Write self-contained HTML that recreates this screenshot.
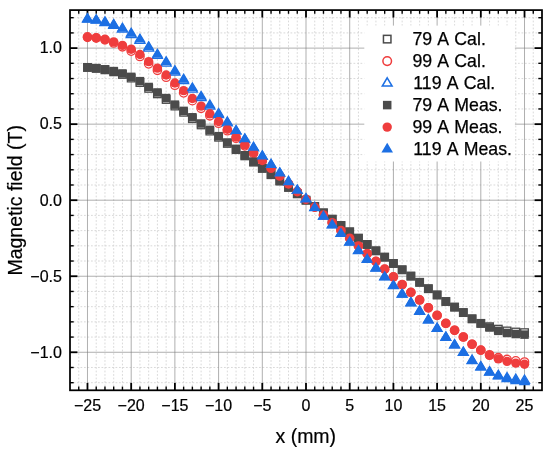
<!DOCTYPE html>
<html lang="en"><head><meta charset="utf-8"><title>Magnetic field vs x</title>
<style>html,body{margin:0;padding:0;background:#fff}body{width:550px;height:451px;overflow:hidden}</style>
</head><body>
<svg width="550" height="451" viewBox="0 0 550 451" style="display:block">
<rect width="550" height="451" fill="#fff"/>
<g stroke="#cfcfcf" stroke-width="0.8" stroke-dasharray="1.75 1.75" fill="none">
<line x1="78.74" y1="10.1" x2="78.74" y2="390.3"/>
<line x1="96.22" y1="10.1" x2="96.22" y2="390.3"/>
<line x1="104.96" y1="10.1" x2="104.96" y2="390.3"/>
<line x1="113.70" y1="10.1" x2="113.70" y2="390.3"/>
<line x1="122.44" y1="10.1" x2="122.44" y2="390.3"/>
<line x1="139.93" y1="10.1" x2="139.93" y2="390.3"/>
<line x1="148.67" y1="10.1" x2="148.67" y2="390.3"/>
<line x1="157.41" y1="10.1" x2="157.41" y2="390.3"/>
<line x1="166.15" y1="10.1" x2="166.15" y2="390.3"/>
<line x1="183.63" y1="10.1" x2="183.63" y2="390.3"/>
<line x1="192.37" y1="10.1" x2="192.37" y2="390.3"/>
<line x1="201.11" y1="10.1" x2="201.11" y2="390.3"/>
<line x1="209.85" y1="10.1" x2="209.85" y2="390.3"/>
<line x1="227.33" y1="10.1" x2="227.33" y2="390.3"/>
<line x1="236.07" y1="10.1" x2="236.07" y2="390.3"/>
<line x1="244.81" y1="10.1" x2="244.81" y2="390.3"/>
<line x1="253.56" y1="10.1" x2="253.56" y2="390.3"/>
<line x1="271.04" y1="10.1" x2="271.04" y2="390.3"/>
<line x1="279.78" y1="10.1" x2="279.78" y2="390.3"/>
<line x1="288.52" y1="10.1" x2="288.52" y2="390.3"/>
<line x1="297.26" y1="10.1" x2="297.26" y2="390.3"/>
<line x1="314.74" y1="10.1" x2="314.74" y2="390.3"/>
<line x1="323.48" y1="10.1" x2="323.48" y2="390.3"/>
<line x1="332.22" y1="10.1" x2="332.22" y2="390.3"/>
<line x1="340.96" y1="10.1" x2="340.96" y2="390.3"/>
<line x1="358.44" y1="10.1" x2="358.44" y2="390.3"/>
<line x1="367.19" y1="10.1" x2="367.19" y2="390.3"/>
<line x1="375.93" y1="10.1" x2="375.93" y2="390.3"/>
<line x1="384.67" y1="10.1" x2="384.67" y2="390.3"/>
<line x1="402.15" y1="10.1" x2="402.15" y2="390.3"/>
<line x1="410.89" y1="10.1" x2="410.89" y2="390.3"/>
<line x1="419.63" y1="10.1" x2="419.63" y2="390.3"/>
<line x1="428.37" y1="10.1" x2="428.37" y2="390.3"/>
<line x1="445.85" y1="10.1" x2="445.85" y2="390.3"/>
<line x1="454.59" y1="10.1" x2="454.59" y2="390.3"/>
<line x1="463.33" y1="10.1" x2="463.33" y2="390.3"/>
<line x1="472.07" y1="10.1" x2="472.07" y2="390.3"/>
<line x1="489.56" y1="10.1" x2="489.56" y2="390.3"/>
<line x1="498.30" y1="10.1" x2="498.30" y2="390.3"/>
<line x1="507.04" y1="10.1" x2="507.04" y2="390.3"/>
<line x1="515.78" y1="10.1" x2="515.78" y2="390.3"/>
<line x1="533.26" y1="10.1" x2="533.26" y2="390.3"/>
<line x1="70.0" y1="382.70" x2="542.0" y2="382.70"/>
<line x1="70.0" y1="367.49" x2="542.0" y2="367.49"/>
<line x1="70.0" y1="337.07" x2="542.0" y2="337.07"/>
<line x1="70.0" y1="321.86" x2="542.0" y2="321.86"/>
<line x1="70.0" y1="306.66" x2="542.0" y2="306.66"/>
<line x1="70.0" y1="291.45" x2="542.0" y2="291.45"/>
<line x1="70.0" y1="261.03" x2="542.0" y2="261.03"/>
<line x1="70.0" y1="245.82" x2="542.0" y2="245.82"/>
<line x1="70.0" y1="230.62" x2="542.0" y2="230.62"/>
<line x1="70.0" y1="215.41" x2="542.0" y2="215.41"/>
<line x1="70.0" y1="184.99" x2="542.0" y2="184.99"/>
<line x1="70.0" y1="169.78" x2="542.0" y2="169.78"/>
<line x1="70.0" y1="154.58" x2="542.0" y2="154.58"/>
<line x1="70.0" y1="139.37" x2="542.0" y2="139.37"/>
<line x1="70.0" y1="108.95" x2="542.0" y2="108.95"/>
<line x1="70.0" y1="93.74" x2="542.0" y2="93.74"/>
<line x1="70.0" y1="78.54" x2="542.0" y2="78.54"/>
<line x1="70.0" y1="63.33" x2="542.0" y2="63.33"/>
<line x1="70.0" y1="32.91" x2="542.0" y2="32.91"/>
<line x1="70.0" y1="17.70" x2="542.0" y2="17.70"/>
</g>
<g stroke="#787878" stroke-width="0.6" fill="none">
<line x1="87.48" y1="10.1" x2="87.48" y2="390.3"/>
<line x1="131.19" y1="10.1" x2="131.19" y2="390.3"/>
<line x1="174.89" y1="10.1" x2="174.89" y2="390.3"/>
<line x1="218.59" y1="10.1" x2="218.59" y2="390.3"/>
<line x1="262.30" y1="10.1" x2="262.30" y2="390.3"/>
<line x1="306.00" y1="10.1" x2="306.00" y2="390.3"/>
<line x1="349.70" y1="10.1" x2="349.70" y2="390.3"/>
<line x1="393.41" y1="10.1" x2="393.41" y2="390.3"/>
<line x1="437.11" y1="10.1" x2="437.11" y2="390.3"/>
<line x1="480.81" y1="10.1" x2="480.81" y2="390.3"/>
<line x1="524.52" y1="10.1" x2="524.52" y2="390.3"/>
<line x1="70.0" y1="352.28" x2="542.0" y2="352.28"/>
<line x1="70.0" y1="276.24" x2="542.0" y2="276.24"/>
<line x1="70.0" y1="200.20" x2="542.0" y2="200.20"/>
<line x1="70.0" y1="124.16" x2="542.0" y2="124.16"/>
<line x1="70.0" y1="48.12" x2="542.0" y2="48.12"/>
</g>
<g stroke="#000" stroke-width="1.5" fill="none">
<line x1="78.74" y1="390.3" x2="78.74" y2="386.6" stroke-width="1.4"/>
<line x1="78.74" y1="10.1" x2="78.74" y2="13.8" stroke-width="1.4"/>
<line x1="87.48" y1="390.3" x2="87.48" y2="382.90000000000003" stroke-width="1.8"/>
<line x1="87.48" y1="10.1" x2="87.48" y2="17.5" stroke-width="1.8"/>
<line x1="96.22" y1="390.3" x2="96.22" y2="386.6" stroke-width="1.4"/>
<line x1="96.22" y1="10.1" x2="96.22" y2="13.8" stroke-width="1.4"/>
<line x1="104.96" y1="390.3" x2="104.96" y2="386.6" stroke-width="1.4"/>
<line x1="104.96" y1="10.1" x2="104.96" y2="13.8" stroke-width="1.4"/>
<line x1="113.70" y1="390.3" x2="113.70" y2="386.6" stroke-width="1.4"/>
<line x1="113.70" y1="10.1" x2="113.70" y2="13.8" stroke-width="1.4"/>
<line x1="122.44" y1="390.3" x2="122.44" y2="386.6" stroke-width="1.4"/>
<line x1="122.44" y1="10.1" x2="122.44" y2="13.8" stroke-width="1.4"/>
<line x1="131.19" y1="390.3" x2="131.19" y2="382.90000000000003" stroke-width="1.8"/>
<line x1="131.19" y1="10.1" x2="131.19" y2="17.5" stroke-width="1.8"/>
<line x1="139.93" y1="390.3" x2="139.93" y2="386.6" stroke-width="1.4"/>
<line x1="139.93" y1="10.1" x2="139.93" y2="13.8" stroke-width="1.4"/>
<line x1="148.67" y1="390.3" x2="148.67" y2="386.6" stroke-width="1.4"/>
<line x1="148.67" y1="10.1" x2="148.67" y2="13.8" stroke-width="1.4"/>
<line x1="157.41" y1="390.3" x2="157.41" y2="386.6" stroke-width="1.4"/>
<line x1="157.41" y1="10.1" x2="157.41" y2="13.8" stroke-width="1.4"/>
<line x1="166.15" y1="390.3" x2="166.15" y2="386.6" stroke-width="1.4"/>
<line x1="166.15" y1="10.1" x2="166.15" y2="13.8" stroke-width="1.4"/>
<line x1="174.89" y1="390.3" x2="174.89" y2="382.90000000000003" stroke-width="1.8"/>
<line x1="174.89" y1="10.1" x2="174.89" y2="17.5" stroke-width="1.8"/>
<line x1="183.63" y1="390.3" x2="183.63" y2="386.6" stroke-width="1.4"/>
<line x1="183.63" y1="10.1" x2="183.63" y2="13.8" stroke-width="1.4"/>
<line x1="192.37" y1="390.3" x2="192.37" y2="386.6" stroke-width="1.4"/>
<line x1="192.37" y1="10.1" x2="192.37" y2="13.8" stroke-width="1.4"/>
<line x1="201.11" y1="390.3" x2="201.11" y2="386.6" stroke-width="1.4"/>
<line x1="201.11" y1="10.1" x2="201.11" y2="13.8" stroke-width="1.4"/>
<line x1="209.85" y1="390.3" x2="209.85" y2="386.6" stroke-width="1.4"/>
<line x1="209.85" y1="10.1" x2="209.85" y2="13.8" stroke-width="1.4"/>
<line x1="218.59" y1="390.3" x2="218.59" y2="382.90000000000003" stroke-width="1.8"/>
<line x1="218.59" y1="10.1" x2="218.59" y2="17.5" stroke-width="1.8"/>
<line x1="227.33" y1="390.3" x2="227.33" y2="386.6" stroke-width="1.4"/>
<line x1="227.33" y1="10.1" x2="227.33" y2="13.8" stroke-width="1.4"/>
<line x1="236.07" y1="390.3" x2="236.07" y2="386.6" stroke-width="1.4"/>
<line x1="236.07" y1="10.1" x2="236.07" y2="13.8" stroke-width="1.4"/>
<line x1="244.81" y1="390.3" x2="244.81" y2="386.6" stroke-width="1.4"/>
<line x1="244.81" y1="10.1" x2="244.81" y2="13.8" stroke-width="1.4"/>
<line x1="253.56" y1="390.3" x2="253.56" y2="386.6" stroke-width="1.4"/>
<line x1="253.56" y1="10.1" x2="253.56" y2="13.8" stroke-width="1.4"/>
<line x1="262.30" y1="390.3" x2="262.30" y2="382.90000000000003" stroke-width="1.8"/>
<line x1="262.30" y1="10.1" x2="262.30" y2="17.5" stroke-width="1.8"/>
<line x1="271.04" y1="390.3" x2="271.04" y2="386.6" stroke-width="1.4"/>
<line x1="271.04" y1="10.1" x2="271.04" y2="13.8" stroke-width="1.4"/>
<line x1="279.78" y1="390.3" x2="279.78" y2="386.6" stroke-width="1.4"/>
<line x1="279.78" y1="10.1" x2="279.78" y2="13.8" stroke-width="1.4"/>
<line x1="288.52" y1="390.3" x2="288.52" y2="386.6" stroke-width="1.4"/>
<line x1="288.52" y1="10.1" x2="288.52" y2="13.8" stroke-width="1.4"/>
<line x1="297.26" y1="390.3" x2="297.26" y2="386.6" stroke-width="1.4"/>
<line x1="297.26" y1="10.1" x2="297.26" y2="13.8" stroke-width="1.4"/>
<line x1="306.00" y1="390.3" x2="306.00" y2="382.90000000000003" stroke-width="1.8"/>
<line x1="306.00" y1="10.1" x2="306.00" y2="17.5" stroke-width="1.8"/>
<line x1="314.74" y1="390.3" x2="314.74" y2="386.6" stroke-width="1.4"/>
<line x1="314.74" y1="10.1" x2="314.74" y2="13.8" stroke-width="1.4"/>
<line x1="323.48" y1="390.3" x2="323.48" y2="386.6" stroke-width="1.4"/>
<line x1="323.48" y1="10.1" x2="323.48" y2="13.8" stroke-width="1.4"/>
<line x1="332.22" y1="390.3" x2="332.22" y2="386.6" stroke-width="1.4"/>
<line x1="332.22" y1="10.1" x2="332.22" y2="13.8" stroke-width="1.4"/>
<line x1="340.96" y1="390.3" x2="340.96" y2="386.6" stroke-width="1.4"/>
<line x1="340.96" y1="10.1" x2="340.96" y2="13.8" stroke-width="1.4"/>
<line x1="349.70" y1="390.3" x2="349.70" y2="382.90000000000003" stroke-width="1.8"/>
<line x1="349.70" y1="10.1" x2="349.70" y2="17.5" stroke-width="1.8"/>
<line x1="358.44" y1="390.3" x2="358.44" y2="386.6" stroke-width="1.4"/>
<line x1="358.44" y1="10.1" x2="358.44" y2="13.8" stroke-width="1.4"/>
<line x1="367.19" y1="390.3" x2="367.19" y2="386.6" stroke-width="1.4"/>
<line x1="367.19" y1="10.1" x2="367.19" y2="13.8" stroke-width="1.4"/>
<line x1="375.93" y1="390.3" x2="375.93" y2="386.6" stroke-width="1.4"/>
<line x1="375.93" y1="10.1" x2="375.93" y2="13.8" stroke-width="1.4"/>
<line x1="384.67" y1="390.3" x2="384.67" y2="386.6" stroke-width="1.4"/>
<line x1="384.67" y1="10.1" x2="384.67" y2="13.8" stroke-width="1.4"/>
<line x1="393.41" y1="390.3" x2="393.41" y2="382.90000000000003" stroke-width="1.8"/>
<line x1="393.41" y1="10.1" x2="393.41" y2="17.5" stroke-width="1.8"/>
<line x1="402.15" y1="390.3" x2="402.15" y2="386.6" stroke-width="1.4"/>
<line x1="402.15" y1="10.1" x2="402.15" y2="13.8" stroke-width="1.4"/>
<line x1="410.89" y1="390.3" x2="410.89" y2="386.6" stroke-width="1.4"/>
<line x1="410.89" y1="10.1" x2="410.89" y2="13.8" stroke-width="1.4"/>
<line x1="419.63" y1="390.3" x2="419.63" y2="386.6" stroke-width="1.4"/>
<line x1="419.63" y1="10.1" x2="419.63" y2="13.8" stroke-width="1.4"/>
<line x1="428.37" y1="390.3" x2="428.37" y2="386.6" stroke-width="1.4"/>
<line x1="428.37" y1="10.1" x2="428.37" y2="13.8" stroke-width="1.4"/>
<line x1="437.11" y1="390.3" x2="437.11" y2="382.90000000000003" stroke-width="1.8"/>
<line x1="437.11" y1="10.1" x2="437.11" y2="17.5" stroke-width="1.8"/>
<line x1="445.85" y1="390.3" x2="445.85" y2="386.6" stroke-width="1.4"/>
<line x1="445.85" y1="10.1" x2="445.85" y2="13.8" stroke-width="1.4"/>
<line x1="454.59" y1="390.3" x2="454.59" y2="386.6" stroke-width="1.4"/>
<line x1="454.59" y1="10.1" x2="454.59" y2="13.8" stroke-width="1.4"/>
<line x1="463.33" y1="390.3" x2="463.33" y2="386.6" stroke-width="1.4"/>
<line x1="463.33" y1="10.1" x2="463.33" y2="13.8" stroke-width="1.4"/>
<line x1="472.07" y1="390.3" x2="472.07" y2="386.6" stroke-width="1.4"/>
<line x1="472.07" y1="10.1" x2="472.07" y2="13.8" stroke-width="1.4"/>
<line x1="480.81" y1="390.3" x2="480.81" y2="382.90000000000003" stroke-width="1.8"/>
<line x1="480.81" y1="10.1" x2="480.81" y2="17.5" stroke-width="1.8"/>
<line x1="489.56" y1="390.3" x2="489.56" y2="386.6" stroke-width="1.4"/>
<line x1="489.56" y1="10.1" x2="489.56" y2="13.8" stroke-width="1.4"/>
<line x1="498.30" y1="390.3" x2="498.30" y2="386.6" stroke-width="1.4"/>
<line x1="498.30" y1="10.1" x2="498.30" y2="13.8" stroke-width="1.4"/>
<line x1="507.04" y1="390.3" x2="507.04" y2="386.6" stroke-width="1.4"/>
<line x1="507.04" y1="10.1" x2="507.04" y2="13.8" stroke-width="1.4"/>
<line x1="515.78" y1="390.3" x2="515.78" y2="386.6" stroke-width="1.4"/>
<line x1="515.78" y1="10.1" x2="515.78" y2="13.8" stroke-width="1.4"/>
<line x1="524.52" y1="390.3" x2="524.52" y2="382.90000000000003" stroke-width="1.8"/>
<line x1="524.52" y1="10.1" x2="524.52" y2="17.5" stroke-width="1.8"/>
<line x1="533.26" y1="390.3" x2="533.26" y2="386.6" stroke-width="1.4"/>
<line x1="533.26" y1="10.1" x2="533.26" y2="13.8" stroke-width="1.4"/>
<line x1="70.0" y1="382.70" x2="73.7" y2="382.70" stroke-width="1.4"/>
<line x1="542.0" y1="382.70" x2="538.3" y2="382.70" stroke-width="1.4"/>
<line x1="70.0" y1="367.49" x2="73.7" y2="367.49" stroke-width="1.4"/>
<line x1="542.0" y1="367.49" x2="538.3" y2="367.49" stroke-width="1.4"/>
<line x1="70.0" y1="352.28" x2="77.4" y2="352.28" stroke-width="1.8"/>
<line x1="542.0" y1="352.28" x2="534.6" y2="352.28" stroke-width="1.8"/>
<line x1="70.0" y1="337.07" x2="73.7" y2="337.07" stroke-width="1.4"/>
<line x1="542.0" y1="337.07" x2="538.3" y2="337.07" stroke-width="1.4"/>
<line x1="70.0" y1="321.86" x2="73.7" y2="321.86" stroke-width="1.4"/>
<line x1="542.0" y1="321.86" x2="538.3" y2="321.86" stroke-width="1.4"/>
<line x1="70.0" y1="306.66" x2="73.7" y2="306.66" stroke-width="1.4"/>
<line x1="542.0" y1="306.66" x2="538.3" y2="306.66" stroke-width="1.4"/>
<line x1="70.0" y1="291.45" x2="73.7" y2="291.45" stroke-width="1.4"/>
<line x1="542.0" y1="291.45" x2="538.3" y2="291.45" stroke-width="1.4"/>
<line x1="70.0" y1="276.24" x2="77.4" y2="276.24" stroke-width="1.8"/>
<line x1="542.0" y1="276.24" x2="534.6" y2="276.24" stroke-width="1.8"/>
<line x1="70.0" y1="261.03" x2="73.7" y2="261.03" stroke-width="1.4"/>
<line x1="542.0" y1="261.03" x2="538.3" y2="261.03" stroke-width="1.4"/>
<line x1="70.0" y1="245.82" x2="73.7" y2="245.82" stroke-width="1.4"/>
<line x1="542.0" y1="245.82" x2="538.3" y2="245.82" stroke-width="1.4"/>
<line x1="70.0" y1="230.62" x2="73.7" y2="230.62" stroke-width="1.4"/>
<line x1="542.0" y1="230.62" x2="538.3" y2="230.62" stroke-width="1.4"/>
<line x1="70.0" y1="215.41" x2="73.7" y2="215.41" stroke-width="1.4"/>
<line x1="542.0" y1="215.41" x2="538.3" y2="215.41" stroke-width="1.4"/>
<line x1="70.0" y1="200.20" x2="77.4" y2="200.20" stroke-width="1.8"/>
<line x1="542.0" y1="200.20" x2="534.6" y2="200.20" stroke-width="1.8"/>
<line x1="70.0" y1="184.99" x2="73.7" y2="184.99" stroke-width="1.4"/>
<line x1="542.0" y1="184.99" x2="538.3" y2="184.99" stroke-width="1.4"/>
<line x1="70.0" y1="169.78" x2="73.7" y2="169.78" stroke-width="1.4"/>
<line x1="542.0" y1="169.78" x2="538.3" y2="169.78" stroke-width="1.4"/>
<line x1="70.0" y1="154.58" x2="73.7" y2="154.58" stroke-width="1.4"/>
<line x1="542.0" y1="154.58" x2="538.3" y2="154.58" stroke-width="1.4"/>
<line x1="70.0" y1="139.37" x2="73.7" y2="139.37" stroke-width="1.4"/>
<line x1="542.0" y1="139.37" x2="538.3" y2="139.37" stroke-width="1.4"/>
<line x1="70.0" y1="124.16" x2="77.4" y2="124.16" stroke-width="1.8"/>
<line x1="542.0" y1="124.16" x2="534.6" y2="124.16" stroke-width="1.8"/>
<line x1="70.0" y1="108.95" x2="73.7" y2="108.95" stroke-width="1.4"/>
<line x1="542.0" y1="108.95" x2="538.3" y2="108.95" stroke-width="1.4"/>
<line x1="70.0" y1="93.74" x2="73.7" y2="93.74" stroke-width="1.4"/>
<line x1="542.0" y1="93.74" x2="538.3" y2="93.74" stroke-width="1.4"/>
<line x1="70.0" y1="78.54" x2="73.7" y2="78.54" stroke-width="1.4"/>
<line x1="542.0" y1="78.54" x2="538.3" y2="78.54" stroke-width="1.4"/>
<line x1="70.0" y1="63.33" x2="73.7" y2="63.33" stroke-width="1.4"/>
<line x1="542.0" y1="63.33" x2="538.3" y2="63.33" stroke-width="1.4"/>
<line x1="70.0" y1="48.12" x2="77.4" y2="48.12" stroke-width="1.8"/>
<line x1="542.0" y1="48.12" x2="534.6" y2="48.12" stroke-width="1.8"/>
<line x1="70.0" y1="32.91" x2="73.7" y2="32.91" stroke-width="1.4"/>
<line x1="542.0" y1="32.91" x2="538.3" y2="32.91" stroke-width="1.4"/>
<line x1="70.0" y1="17.70" x2="73.7" y2="17.70" stroke-width="1.4"/>
<line x1="542.0" y1="17.70" x2="538.3" y2="17.70" stroke-width="1.4"/>
</g>
<rect x="70.0" y="10.1" width="472.0" height="380.2" fill="none" stroke="#000" stroke-width="1.75"/>
<g>
<rect x="83.68" y="63.63" width="7.6" height="7.6" fill="#fff" stroke="#4b4b4b" stroke-width="1.3"/>
<rect x="92.42" y="64.59" width="7.6" height="7.6" fill="#fff" stroke="#4b4b4b" stroke-width="1.3"/>
<rect x="101.16" y="66.01" width="7.6" height="7.6" fill="#fff" stroke="#4b4b4b" stroke-width="1.3"/>
<rect x="109.90" y="68.03" width="7.6" height="7.6" fill="#fff" stroke="#4b4b4b" stroke-width="1.3"/>
<rect x="118.64" y="70.64" width="7.6" height="7.6" fill="#fff" stroke="#4b4b4b" stroke-width="1.3"/>
<rect x="127.39" y="74.26" width="7.6" height="7.6" fill="#fff" stroke="#4b4b4b" stroke-width="1.3"/>
<rect x="136.13" y="78.76" width="7.6" height="7.6" fill="#fff" stroke="#4b4b4b" stroke-width="1.3"/>
<rect x="144.87" y="84.58" width="7.6" height="7.6" fill="#fff" stroke="#4b4b4b" stroke-width="1.3"/>
<rect x="153.61" y="90.06" width="7.6" height="7.6" fill="#fff" stroke="#4b4b4b" stroke-width="1.3"/>
<rect x="162.35" y="95.69" width="7.6" height="7.6" fill="#fff" stroke="#4b4b4b" stroke-width="1.3"/>
<rect x="171.09" y="102.24" width="7.6" height="7.6" fill="#fff" stroke="#4b4b4b" stroke-width="1.3"/>
<rect x="179.83" y="108.48" width="7.6" height="7.6" fill="#fff" stroke="#4b4b4b" stroke-width="1.3"/>
<rect x="188.57" y="114.88" width="7.6" height="7.6" fill="#fff" stroke="#4b4b4b" stroke-width="1.3"/>
<rect x="197.31" y="121.12" width="7.6" height="7.6" fill="#fff" stroke="#4b4b4b" stroke-width="1.3"/>
<rect x="206.05" y="127.28" width="7.6" height="7.6" fill="#fff" stroke="#4b4b4b" stroke-width="1.3"/>
<rect x="214.79" y="133.45" width="7.6" height="7.6" fill="#fff" stroke="#4b4b4b" stroke-width="1.3"/>
<rect x="223.53" y="139.62" width="7.6" height="7.6" fill="#fff" stroke="#4b4b4b" stroke-width="1.3"/>
<rect x="232.27" y="145.80" width="7.6" height="7.6" fill="#fff" stroke="#4b4b4b" stroke-width="1.3"/>
<rect x="241.01" y="152.07" width="7.6" height="7.6" fill="#fff" stroke="#4b4b4b" stroke-width="1.3"/>
<rect x="249.76" y="158.34" width="7.6" height="7.6" fill="#fff" stroke="#4b4b4b" stroke-width="1.3"/>
<rect x="258.50" y="164.61" width="7.6" height="7.6" fill="#fff" stroke="#4b4b4b" stroke-width="1.3"/>
<rect x="267.24" y="170.89" width="7.6" height="7.6" fill="#fff" stroke="#4b4b4b" stroke-width="1.3"/>
<rect x="275.98" y="177.17" width="7.6" height="7.6" fill="#fff" stroke="#4b4b4b" stroke-width="1.3"/>
<rect x="284.72" y="183.59" width="7.6" height="7.6" fill="#fff" stroke="#4b4b4b" stroke-width="1.3"/>
<rect x="293.46" y="190.00" width="7.6" height="7.6" fill="#fff" stroke="#4b4b4b" stroke-width="1.3"/>
<rect x="302.20" y="196.40" width="7.6" height="7.6" fill="#fff" stroke="#4b4b4b" stroke-width="1.3"/>
<rect x="310.94" y="202.73" width="7.6" height="7.6" fill="#fff" stroke="#4b4b4b" stroke-width="1.3"/>
<rect x="319.68" y="209.05" width="7.6" height="7.6" fill="#fff" stroke="#4b4b4b" stroke-width="1.3"/>
<rect x="328.42" y="215.38" width="7.6" height="7.6" fill="#fff" stroke="#4b4b4b" stroke-width="1.3"/>
<rect x="337.16" y="221.71" width="7.6" height="7.6" fill="#fff" stroke="#4b4b4b" stroke-width="1.3"/>
<rect x="345.90" y="228.03" width="7.6" height="7.6" fill="#fff" stroke="#4b4b4b" stroke-width="1.3"/>
<rect x="354.64" y="234.36" width="7.6" height="7.6" fill="#fff" stroke="#4b4b4b" stroke-width="1.3"/>
<rect x="363.39" y="240.69" width="7.6" height="7.6" fill="#fff" stroke="#4b4b4b" stroke-width="1.3"/>
<rect x="372.13" y="247.01" width="7.6" height="7.6" fill="#fff" stroke="#4b4b4b" stroke-width="1.3"/>
<rect x="380.87" y="253.34" width="7.6" height="7.6" fill="#fff" stroke="#4b4b4b" stroke-width="1.3"/>
<rect x="389.61" y="259.67" width="7.6" height="7.6" fill="#fff" stroke="#4b4b4b" stroke-width="1.3"/>
<rect x="398.35" y="265.98" width="7.6" height="7.6" fill="#fff" stroke="#4b4b4b" stroke-width="1.3"/>
<rect x="407.09" y="272.29" width="7.6" height="7.6" fill="#fff" stroke="#4b4b4b" stroke-width="1.3"/>
<rect x="415.83" y="278.52" width="7.6" height="7.6" fill="#fff" stroke="#4b4b4b" stroke-width="1.3"/>
<rect x="424.57" y="284.91" width="7.6" height="7.6" fill="#fff" stroke="#4b4b4b" stroke-width="1.3"/>
<rect x="433.31" y="291.15" width="7.6" height="7.6" fill="#fff" stroke="#4b4b4b" stroke-width="1.3"/>
<rect x="442.05" y="297.69" width="7.6" height="7.6" fill="#fff" stroke="#4b4b4b" stroke-width="1.3"/>
<rect x="450.79" y="303.31" width="7.6" height="7.6" fill="#fff" stroke="#4b4b4b" stroke-width="1.3"/>
<rect x="459.53" y="308.79" width="7.6" height="7.6" fill="#fff" stroke="#4b4b4b" stroke-width="1.3"/>
<rect x="468.27" y="315.02" width="7.6" height="7.6" fill="#fff" stroke="#4b4b4b" stroke-width="1.3"/>
<rect x="477.01" y="319.58" width="7.6" height="7.6" fill="#fff" stroke="#4b4b4b" stroke-width="1.3"/>
<rect x="485.76" y="322.89" width="7.6" height="7.6" fill="#fff" stroke="#4b4b4b" stroke-width="1.3"/>
<rect x="494.50" y="325.34" width="7.6" height="7.6" fill="#fff" stroke="#4b4b4b" stroke-width="1.3"/>
<rect x="503.24" y="327.16" width="7.6" height="7.6" fill="#fff" stroke="#4b4b4b" stroke-width="1.3"/>
<rect x="511.98" y="328.23" width="7.6" height="7.6" fill="#fff" stroke="#4b4b4b" stroke-width="1.3"/>
<rect x="520.72" y="328.84" width="7.6" height="7.6" fill="#fff" stroke="#4b4b4b" stroke-width="1.3"/>
<circle cx="87.48" cy="36.87" r="4.20" fill="#fff" stroke="#ef3d3d" stroke-width="1.3"/>
<circle cx="96.22" cy="37.83" r="4.20" fill="#fff" stroke="#ef3d3d" stroke-width="1.3"/>
<circle cx="104.96" cy="39.80" r="4.20" fill="#fff" stroke="#ef3d3d" stroke-width="1.3"/>
<circle cx="113.70" cy="42.99" r="4.20" fill="#fff" stroke="#ef3d3d" stroke-width="1.3"/>
<circle cx="122.44" cy="46.78" r="4.20" fill="#fff" stroke="#ef3d3d" stroke-width="1.3"/>
<circle cx="131.19" cy="51.09" r="4.20" fill="#fff" stroke="#ef3d3d" stroke-width="1.3"/>
<circle cx="139.93" cy="56.52" r="4.20" fill="#fff" stroke="#ef3d3d" stroke-width="1.3"/>
<circle cx="148.67" cy="63.86" r="4.20" fill="#fff" stroke="#ef3d3d" stroke-width="1.3"/>
<circle cx="157.41" cy="70.32" r="4.20" fill="#fff" stroke="#ef3d3d" stroke-width="1.3"/>
<circle cx="166.15" cy="77.21" r="4.20" fill="#fff" stroke="#ef3d3d" stroke-width="1.3"/>
<circle cx="174.89" cy="85.22" r="4.20" fill="#fff" stroke="#ef3d3d" stroke-width="1.3"/>
<circle cx="183.63" cy="92.85" r="4.20" fill="#fff" stroke="#ef3d3d" stroke-width="1.3"/>
<circle cx="192.37" cy="100.67" r="4.20" fill="#fff" stroke="#ef3d3d" stroke-width="1.3"/>
<circle cx="201.11" cy="108.30" r="4.20" fill="#fff" stroke="#ef3d3d" stroke-width="1.3"/>
<circle cx="209.85" cy="115.78" r="4.20" fill="#fff" stroke="#ef3d3d" stroke-width="1.3"/>
<circle cx="218.59" cy="123.26" r="4.20" fill="#fff" stroke="#ef3d3d" stroke-width="1.3"/>
<circle cx="227.33" cy="130.76" r="4.20" fill="#fff" stroke="#ef3d3d" stroke-width="1.3"/>
<circle cx="236.07" cy="138.26" r="4.20" fill="#fff" stroke="#ef3d3d" stroke-width="1.3"/>
<circle cx="244.81" cy="145.84" r="4.20" fill="#fff" stroke="#ef3d3d" stroke-width="1.3"/>
<circle cx="253.56" cy="153.42" r="4.20" fill="#fff" stroke="#ef3d3d" stroke-width="1.3"/>
<circle cx="262.30" cy="160.99" r="4.20" fill="#fff" stroke="#ef3d3d" stroke-width="1.3"/>
<circle cx="271.04" cy="168.56" r="4.20" fill="#fff" stroke="#ef3d3d" stroke-width="1.3"/>
<circle cx="279.78" cy="176.13" r="4.20" fill="#fff" stroke="#ef3d3d" stroke-width="1.3"/>
<circle cx="288.52" cy="183.95" r="4.20" fill="#fff" stroke="#ef3d3d" stroke-width="1.3"/>
<circle cx="297.26" cy="191.70" r="4.20" fill="#fff" stroke="#ef3d3d" stroke-width="1.3"/>
<circle cx="306.00" cy="199.44" r="4.20" fill="#fff" stroke="#ef3d3d" stroke-width="1.3"/>
<circle cx="314.74" cy="207.18" r="4.20" fill="#fff" stroke="#ef3d3d" stroke-width="1.3"/>
<circle cx="323.48" cy="214.93" r="4.20" fill="#fff" stroke="#ef3d3d" stroke-width="1.3"/>
<circle cx="332.22" cy="222.67" r="4.20" fill="#fff" stroke="#ef3d3d" stroke-width="1.3"/>
<circle cx="340.96" cy="230.41" r="4.20" fill="#fff" stroke="#ef3d3d" stroke-width="1.3"/>
<circle cx="349.70" cy="238.16" r="4.20" fill="#fff" stroke="#ef3d3d" stroke-width="1.3"/>
<circle cx="358.44" cy="245.90" r="4.20" fill="#fff" stroke="#ef3d3d" stroke-width="1.3"/>
<circle cx="367.19" cy="253.65" r="4.20" fill="#fff" stroke="#ef3d3d" stroke-width="1.3"/>
<circle cx="375.93" cy="261.39" r="4.20" fill="#fff" stroke="#ef3d3d" stroke-width="1.3"/>
<circle cx="384.67" cy="269.13" r="4.20" fill="#fff" stroke="#ef3d3d" stroke-width="1.3"/>
<circle cx="393.41" cy="276.88" r="4.20" fill="#fff" stroke="#ef3d3d" stroke-width="1.3"/>
<circle cx="402.15" cy="284.60" r="4.20" fill="#fff" stroke="#ef3d3d" stroke-width="1.3"/>
<circle cx="410.89" cy="292.33" r="4.20" fill="#fff" stroke="#ef3d3d" stroke-width="1.3"/>
<circle cx="419.63" cy="299.96" r="4.20" fill="#fff" stroke="#ef3d3d" stroke-width="1.3"/>
<circle cx="428.37" cy="307.78" r="4.20" fill="#fff" stroke="#ef3d3d" stroke-width="1.3"/>
<circle cx="437.11" cy="315.41" r="4.20" fill="#fff" stroke="#ef3d3d" stroke-width="1.3"/>
<circle cx="445.85" cy="323.41" r="4.20" fill="#fff" stroke="#ef3d3d" stroke-width="1.3"/>
<circle cx="454.59" cy="330.30" r="4.20" fill="#fff" stroke="#ef3d3d" stroke-width="1.3"/>
<circle cx="463.33" cy="337.00" r="4.20" fill="#fff" stroke="#ef3d3d" stroke-width="1.3"/>
<circle cx="472.07" cy="344.26" r="4.20" fill="#fff" stroke="#ef3d3d" stroke-width="1.3"/>
<circle cx="480.81" cy="350.15" r="4.20" fill="#fff" stroke="#ef3d3d" stroke-width="1.3"/>
<circle cx="489.56" cy="354.80" r="4.20" fill="#fff" stroke="#ef3d3d" stroke-width="1.3"/>
<circle cx="498.30" cy="357.69" r="4.20" fill="#fff" stroke="#ef3d3d" stroke-width="1.3"/>
<circle cx="507.04" cy="359.43" r="4.20" fill="#fff" stroke="#ef3d3d" stroke-width="1.3"/>
<circle cx="515.78" cy="360.88" r="4.20" fill="#fff" stroke="#ef3d3d" stroke-width="1.3"/>
<circle cx="524.52" cy="361.99" r="4.20" fill="#fff" stroke="#ef3d3d" stroke-width="1.3"/>
<polygon points="87.48,13.56 92.48,21.96 82.48,21.96" fill="#fff" stroke="#1c6fe3" stroke-width="1.3" stroke-linejoin="miter"/>
<polygon points="96.22,14.77 101.22,23.17 91.22,23.17" fill="#fff" stroke="#1c6fe3" stroke-width="1.3" stroke-linejoin="miter"/>
<polygon points="104.96,17.20 109.96,25.60 99.96,25.60" fill="#fff" stroke="#1c6fe3" stroke-width="1.3" stroke-linejoin="miter"/>
<polygon points="113.70,19.88 118.70,28.28 108.70,28.28" fill="#fff" stroke="#1c6fe3" stroke-width="1.3" stroke-linejoin="miter"/>
<polygon points="122.44,23.78 127.44,32.18 117.44,32.18" fill="#fff" stroke="#1c6fe3" stroke-width="1.3" stroke-linejoin="miter"/>
<polygon points="131.19,29.10 136.19,37.50 126.19,37.50" fill="#fff" stroke="#1c6fe3" stroke-width="1.3" stroke-linejoin="miter"/>
<polygon points="139.93,35.03 144.93,43.43 134.93,43.43" fill="#fff" stroke="#1c6fe3" stroke-width="1.3" stroke-linejoin="miter"/>
<polygon points="148.67,42.63 153.67,51.03 143.67,51.03" fill="#fff" stroke="#1c6fe3" stroke-width="1.3" stroke-linejoin="miter"/>
<polygon points="157.41,50.07 162.41,58.47 152.41,58.47" fill="#fff" stroke="#1c6fe3" stroke-width="1.3" stroke-linejoin="miter"/>
<polygon points="166.15,57.73 171.15,66.13 161.15,66.13" fill="#fff" stroke="#1c6fe3" stroke-width="1.3" stroke-linejoin="miter"/>
<polygon points="174.89,66.62 179.89,75.02 169.89,75.02" fill="#fff" stroke="#1c6fe3" stroke-width="1.3" stroke-linejoin="miter"/>
<polygon points="183.63,75.10 188.63,83.50 178.63,83.50" fill="#fff" stroke="#1c6fe3" stroke-width="1.3" stroke-linejoin="miter"/>
<polygon points="192.37,83.79 197.37,92.19 187.37,92.19" fill="#fff" stroke="#1c6fe3" stroke-width="1.3" stroke-linejoin="miter"/>
<polygon points="201.11,92.27 206.11,100.67 196.11,100.67" fill="#fff" stroke="#1c6fe3" stroke-width="1.3" stroke-linejoin="miter"/>
<polygon points="209.85,100.72 214.85,109.12 204.85,109.12" fill="#fff" stroke="#1c6fe3" stroke-width="1.3" stroke-linejoin="miter"/>
<polygon points="218.59,109.18 223.59,117.58 213.59,117.58" fill="#fff" stroke="#1c6fe3" stroke-width="1.3" stroke-linejoin="miter"/>
<polygon points="227.33,117.50 232.33,125.90 222.33,125.90" fill="#fff" stroke="#1c6fe3" stroke-width="1.3" stroke-linejoin="miter"/>
<polygon points="236.07,125.82 241.07,134.22 231.07,134.22" fill="#fff" stroke="#1c6fe3" stroke-width="1.3" stroke-linejoin="miter"/>
<polygon points="244.81,134.15 249.81,142.55 239.81,142.55" fill="#fff" stroke="#1c6fe3" stroke-width="1.3" stroke-linejoin="miter"/>
<polygon points="253.56,142.47 258.56,150.87 248.56,150.87" fill="#fff" stroke="#1c6fe3" stroke-width="1.3" stroke-linejoin="miter"/>
<polygon points="262.30,150.95 267.30,159.35 257.30,159.35" fill="#fff" stroke="#1c6fe3" stroke-width="1.3" stroke-linejoin="miter"/>
<polygon points="271.04,159.35 276.04,167.75 266.04,167.75" fill="#fff" stroke="#1c6fe3" stroke-width="1.3" stroke-linejoin="miter"/>
<polygon points="279.78,167.75 284.78,176.15 274.78,176.15" fill="#fff" stroke="#1c6fe3" stroke-width="1.3" stroke-linejoin="miter"/>
<polygon points="288.52,176.36 293.52,184.76 283.52,184.76" fill="#fff" stroke="#1c6fe3" stroke-width="1.3" stroke-linejoin="miter"/>
<polygon points="297.26,184.96 302.26,193.36 292.26,193.36" fill="#fff" stroke="#1c6fe3" stroke-width="1.3" stroke-linejoin="miter"/>
<polygon points="306.00,193.57 311.00,201.97 301.00,201.97" fill="#fff" stroke="#1c6fe3" stroke-width="1.3" stroke-linejoin="miter"/>
<polygon points="314.74,202.17 319.74,210.57 309.74,210.57" fill="#fff" stroke="#1c6fe3" stroke-width="1.3" stroke-linejoin="miter"/>
<polygon points="323.48,210.77 328.48,219.17 318.48,219.17" fill="#fff" stroke="#1c6fe3" stroke-width="1.3" stroke-linejoin="miter"/>
<polygon points="332.22,219.38 337.22,227.78 327.22,227.78" fill="#fff" stroke="#1c6fe3" stroke-width="1.3" stroke-linejoin="miter"/>
<polygon points="340.96,227.98 345.96,236.38 335.96,236.38" fill="#fff" stroke="#1c6fe3" stroke-width="1.3" stroke-linejoin="miter"/>
<polygon points="349.70,236.59 354.70,244.99 344.70,244.99" fill="#fff" stroke="#1c6fe3" stroke-width="1.3" stroke-linejoin="miter"/>
<polygon points="358.44,245.19 363.44,253.59 353.44,253.59" fill="#fff" stroke="#1c6fe3" stroke-width="1.3" stroke-linejoin="miter"/>
<polygon points="367.19,253.95 372.19,262.35 362.19,262.35" fill="#fff" stroke="#1c6fe3" stroke-width="1.3" stroke-linejoin="miter"/>
<polygon points="375.93,262.70 380.93,271.10 370.93,271.10" fill="#fff" stroke="#1c6fe3" stroke-width="1.3" stroke-linejoin="miter"/>
<polygon points="384.67,271.46 389.67,279.86 379.67,279.86" fill="#fff" stroke="#1c6fe3" stroke-width="1.3" stroke-linejoin="miter"/>
<polygon points="393.41,280.21 398.41,288.61 388.41,288.61" fill="#fff" stroke="#1c6fe3" stroke-width="1.3" stroke-linejoin="miter"/>
<polygon points="402.15,288.80 407.15,297.20 397.15,297.20" fill="#fff" stroke="#1c6fe3" stroke-width="1.3" stroke-linejoin="miter"/>
<polygon points="410.89,297.38 415.89,305.78 405.89,305.78" fill="#fff" stroke="#1c6fe3" stroke-width="1.3" stroke-linejoin="miter"/>
<polygon points="419.63,305.86 424.63,314.26 414.63,314.26" fill="#fff" stroke="#1c6fe3" stroke-width="1.3" stroke-linejoin="miter"/>
<polygon points="428.37,314.55 433.37,322.95 423.37,322.95" fill="#fff" stroke="#1c6fe3" stroke-width="1.3" stroke-linejoin="miter"/>
<polygon points="437.11,323.03 442.11,331.43 432.11,331.43" fill="#fff" stroke="#1c6fe3" stroke-width="1.3" stroke-linejoin="miter"/>
<polygon points="445.85,331.92 450.85,340.32 440.85,340.32" fill="#fff" stroke="#1c6fe3" stroke-width="1.3" stroke-linejoin="miter"/>
<polygon points="454.59,339.57 459.59,347.97 449.59,347.97" fill="#fff" stroke="#1c6fe3" stroke-width="1.3" stroke-linejoin="miter"/>
<polygon points="463.33,347.02 468.33,355.42 458.33,355.42" fill="#fff" stroke="#1c6fe3" stroke-width="1.3" stroke-linejoin="miter"/>
<polygon points="472.07,355.09 477.07,363.49 467.07,363.49" fill="#fff" stroke="#1c6fe3" stroke-width="1.3" stroke-linejoin="miter"/>
<polygon points="480.81,361.54 485.81,369.94 475.81,369.94" fill="#fff" stroke="#1c6fe3" stroke-width="1.3" stroke-linejoin="miter"/>
<polygon points="489.56,366.63 494.56,375.03 484.56,375.03" fill="#fff" stroke="#1c6fe3" stroke-width="1.3" stroke-linejoin="miter"/>
<polygon points="498.30,370.19 503.30,378.59 493.30,378.59" fill="#fff" stroke="#1c6fe3" stroke-width="1.3" stroke-linejoin="miter"/>
<polygon points="507.04,372.52 512.04,380.92 502.04,380.92" fill="#fff" stroke="#1c6fe3" stroke-width="1.3" stroke-linejoin="miter"/>
<polygon points="515.78,374.10 520.78,382.50 510.78,382.50" fill="#fff" stroke="#1c6fe3" stroke-width="1.3" stroke-linejoin="miter"/>
<polygon points="524.52,374.96 529.52,383.36 519.52,383.36" fill="#fff" stroke="#1c6fe3" stroke-width="1.3" stroke-linejoin="miter"/>
<rect x="83.23" y="63.18" width="8.5" height="8.5" fill="#4b4b4b"/>
<rect x="91.97" y="63.89" width="8.5" height="8.5" fill="#4b4b4b"/>
<rect x="100.71" y="65.06" width="8.5" height="8.5" fill="#4b4b4b"/>
<rect x="109.45" y="66.83" width="8.5" height="8.5" fill="#4b4b4b"/>
<rect x="118.19" y="69.19" width="8.5" height="8.5" fill="#4b4b4b"/>
<rect x="126.94" y="72.61" width="8.5" height="8.5" fill="#4b4b4b"/>
<rect x="135.68" y="76.91" width="8.5" height="8.5" fill="#4b4b4b"/>
<rect x="144.42" y="82.73" width="8.5" height="8.5" fill="#4b4b4b"/>
<rect x="153.16" y="88.21" width="8.5" height="8.5" fill="#4b4b4b"/>
<rect x="161.90" y="93.84" width="8.5" height="8.5" fill="#4b4b4b"/>
<rect x="170.64" y="100.39" width="8.5" height="8.5" fill="#4b4b4b"/>
<rect x="179.38" y="106.63" width="8.5" height="8.5" fill="#4b4b4b"/>
<rect x="188.12" y="113.03" width="8.5" height="8.5" fill="#4b4b4b"/>
<rect x="196.86" y="119.27" width="8.5" height="8.5" fill="#4b4b4b"/>
<rect x="205.60" y="125.59" width="8.5" height="8.5" fill="#4b4b4b"/>
<rect x="214.34" y="131.91" width="8.5" height="8.5" fill="#4b4b4b"/>
<rect x="223.08" y="138.24" width="8.5" height="8.5" fill="#4b4b4b"/>
<rect x="231.82" y="144.58" width="8.5" height="8.5" fill="#4b4b4b"/>
<rect x="240.56" y="151.01" width="8.5" height="8.5" fill="#4b4b4b"/>
<rect x="249.31" y="157.43" width="8.5" height="8.5" fill="#4b4b4b"/>
<rect x="258.05" y="163.86" width="8.5" height="8.5" fill="#4b4b4b"/>
<rect x="266.79" y="170.29" width="8.5" height="8.5" fill="#4b4b4b"/>
<rect x="275.53" y="176.72" width="8.5" height="8.5" fill="#4b4b4b"/>
<rect x="284.27" y="183.14" width="8.5" height="8.5" fill="#4b4b4b"/>
<rect x="293.01" y="189.55" width="8.5" height="8.5" fill="#4b4b4b"/>
<rect x="301.75" y="195.95" width="8.5" height="8.5" fill="#4b4b4b"/>
<rect x="310.49" y="202.28" width="8.5" height="8.5" fill="#4b4b4b"/>
<rect x="319.23" y="208.60" width="8.5" height="8.5" fill="#4b4b4b"/>
<rect x="327.97" y="214.93" width="8.5" height="8.5" fill="#4b4b4b"/>
<rect x="336.71" y="221.26" width="8.5" height="8.5" fill="#4b4b4b"/>
<rect x="345.45" y="227.58" width="8.5" height="8.5" fill="#4b4b4b"/>
<rect x="354.19" y="233.91" width="8.5" height="8.5" fill="#4b4b4b"/>
<rect x="362.94" y="240.24" width="8.5" height="8.5" fill="#4b4b4b"/>
<rect x="371.68" y="246.56" width="8.5" height="8.5" fill="#4b4b4b"/>
<rect x="380.42" y="252.89" width="8.5" height="8.5" fill="#4b4b4b"/>
<rect x="389.16" y="259.22" width="8.5" height="8.5" fill="#4b4b4b"/>
<rect x="397.90" y="265.53" width="8.5" height="8.5" fill="#4b4b4b"/>
<rect x="406.64" y="271.84" width="8.5" height="8.5" fill="#4b4b4b"/>
<rect x="415.38" y="278.07" width="8.5" height="8.5" fill="#4b4b4b"/>
<rect x="424.12" y="284.46" width="8.5" height="8.5" fill="#4b4b4b"/>
<rect x="432.86" y="290.70" width="8.5" height="8.5" fill="#4b4b4b"/>
<rect x="441.60" y="297.24" width="8.5" height="8.5" fill="#4b4b4b"/>
<rect x="450.34" y="302.86" width="8.5" height="8.5" fill="#4b4b4b"/>
<rect x="459.08" y="308.34" width="8.5" height="8.5" fill="#4b4b4b"/>
<rect x="467.82" y="314.57" width="8.5" height="8.5" fill="#4b4b4b"/>
<rect x="476.56" y="319.13" width="8.5" height="8.5" fill="#4b4b4b"/>
<rect x="485.31" y="323.24" width="8.5" height="8.5" fill="#4b4b4b"/>
<rect x="494.05" y="326.59" width="8.5" height="8.5" fill="#4b4b4b"/>
<rect x="502.79" y="328.72" width="8.5" height="8.5" fill="#4b4b4b"/>
<rect x="511.53" y="329.78" width="8.5" height="8.5" fill="#4b4b4b"/>
<rect x="520.27" y="330.39" width="8.5" height="8.5" fill="#4b4b4b"/>
<circle cx="87.48" cy="37.47" r="4.70" fill="#ef3d3d"/>
<circle cx="96.22" cy="37.93" r="4.70" fill="#ef3d3d"/>
<circle cx="104.96" cy="39.30" r="4.70" fill="#ef3d3d"/>
<circle cx="113.70" cy="41.88" r="4.70" fill="#ef3d3d"/>
<circle cx="122.44" cy="45.38" r="4.70" fill="#ef3d3d"/>
<circle cx="131.19" cy="49.18" r="4.70" fill="#ef3d3d"/>
<circle cx="139.93" cy="54.47" r="4.70" fill="#ef3d3d"/>
<circle cx="148.67" cy="61.66" r="4.70" fill="#ef3d3d"/>
<circle cx="157.41" cy="68.12" r="4.70" fill="#ef3d3d"/>
<circle cx="166.15" cy="75.01" r="4.70" fill="#ef3d3d"/>
<circle cx="174.89" cy="83.01" r="4.70" fill="#ef3d3d"/>
<circle cx="183.63" cy="90.65" r="4.70" fill="#ef3d3d"/>
<circle cx="192.37" cy="98.46" r="4.70" fill="#ef3d3d"/>
<circle cx="201.11" cy="106.10" r="4.70" fill="#ef3d3d"/>
<circle cx="209.85" cy="113.82" r="4.70" fill="#ef3d3d"/>
<circle cx="218.59" cy="121.55" r="4.70" fill="#ef3d3d"/>
<circle cx="227.33" cy="129.29" r="4.70" fill="#ef3d3d"/>
<circle cx="236.07" cy="137.03" r="4.70" fill="#ef3d3d"/>
<circle cx="244.81" cy="144.85" r="4.70" fill="#ef3d3d"/>
<circle cx="253.56" cy="152.67" r="4.70" fill="#ef3d3d"/>
<circle cx="262.30" cy="160.49" r="4.70" fill="#ef3d3d"/>
<circle cx="271.04" cy="168.31" r="4.70" fill="#ef3d3d"/>
<circle cx="279.78" cy="176.13" r="4.70" fill="#ef3d3d"/>
<circle cx="288.52" cy="183.95" r="4.70" fill="#ef3d3d"/>
<circle cx="297.26" cy="191.70" r="4.70" fill="#ef3d3d"/>
<circle cx="306.00" cy="199.44" r="4.70" fill="#ef3d3d"/>
<circle cx="314.74" cy="207.18" r="4.70" fill="#ef3d3d"/>
<circle cx="323.48" cy="214.93" r="4.70" fill="#ef3d3d"/>
<circle cx="332.22" cy="222.67" r="4.70" fill="#ef3d3d"/>
<circle cx="340.96" cy="230.41" r="4.70" fill="#ef3d3d"/>
<circle cx="349.70" cy="238.16" r="4.70" fill="#ef3d3d"/>
<circle cx="358.44" cy="245.90" r="4.70" fill="#ef3d3d"/>
<circle cx="367.19" cy="253.65" r="4.70" fill="#ef3d3d"/>
<circle cx="375.93" cy="261.39" r="4.70" fill="#ef3d3d"/>
<circle cx="384.67" cy="269.13" r="4.70" fill="#ef3d3d"/>
<circle cx="393.41" cy="276.88" r="4.70" fill="#ef3d3d"/>
<circle cx="402.15" cy="284.60" r="4.70" fill="#ef3d3d"/>
<circle cx="410.89" cy="292.33" r="4.70" fill="#ef3d3d"/>
<circle cx="419.63" cy="299.96" r="4.70" fill="#ef3d3d"/>
<circle cx="428.37" cy="307.78" r="4.70" fill="#ef3d3d"/>
<circle cx="437.11" cy="315.41" r="4.70" fill="#ef3d3d"/>
<circle cx="445.85" cy="323.41" r="4.70" fill="#ef3d3d"/>
<circle cx="454.59" cy="330.30" r="4.70" fill="#ef3d3d"/>
<circle cx="463.33" cy="337.00" r="4.70" fill="#ef3d3d"/>
<circle cx="472.07" cy="344.26" r="4.70" fill="#ef3d3d"/>
<circle cx="480.81" cy="350.15" r="4.70" fill="#ef3d3d"/>
<circle cx="489.56" cy="355.40" r="4.70" fill="#ef3d3d"/>
<circle cx="498.30" cy="358.90" r="4.70" fill="#ef3d3d"/>
<circle cx="507.04" cy="361.33" r="4.70" fill="#ef3d3d"/>
<circle cx="515.78" cy="363.08" r="4.70" fill="#ef3d3d"/>
<circle cx="524.52" cy="364.29" r="4.70" fill="#ef3d3d"/>
<polygon points="87.48,13.12 93.28,22.82 81.68,22.82" fill="#1c6fe3"/>
<polygon points="96.22,13.88 102.02,23.58 90.42,23.58" fill="#1c6fe3"/>
<polygon points="104.96,15.86 110.76,25.56 99.16,25.56" fill="#1c6fe3"/>
<polygon points="113.70,18.29 119.50,27.99 107.90,27.99" fill="#1c6fe3"/>
<polygon points="122.44,21.94 128.24,31.64 116.64,31.64" fill="#1c6fe3"/>
<polygon points="131.19,27.11 136.99,36.81 125.39,36.81" fill="#1c6fe3"/>
<polygon points="139.93,32.89 145.73,42.59 134.13,42.59" fill="#1c6fe3"/>
<polygon points="148.67,40.49 154.47,50.19 142.87,50.19" fill="#1c6fe3"/>
<polygon points="157.41,47.93 163.21,57.63 151.61,57.63" fill="#1c6fe3"/>
<polygon points="166.15,55.59 171.95,65.29 160.35,65.29" fill="#1c6fe3"/>
<polygon points="174.89,64.48 180.69,74.18 169.09,74.18" fill="#1c6fe3"/>
<polygon points="183.63,72.96 189.43,82.66 177.83,82.66" fill="#1c6fe3"/>
<polygon points="192.37,81.65 198.17,91.35 186.57,91.35" fill="#1c6fe3"/>
<polygon points="201.11,90.13 206.91,99.83 195.31,99.83" fill="#1c6fe3"/>
<polygon points="209.85,98.71 215.65,108.41 204.05,108.41" fill="#1c6fe3"/>
<polygon points="218.59,107.29 224.39,116.99 212.79,116.99" fill="#1c6fe3"/>
<polygon points="227.33,115.75 233.13,125.45 221.53,125.45" fill="#1c6fe3"/>
<polygon points="236.07,124.20 241.87,133.90 230.27,133.90" fill="#1c6fe3"/>
<polygon points="244.81,132.65 250.61,142.35 239.01,142.35" fill="#1c6fe3"/>
<polygon points="253.56,141.10 259.36,150.80 247.76,150.80" fill="#1c6fe3"/>
<polygon points="262.30,149.71 268.10,159.41 256.50,159.41" fill="#1c6fe3"/>
<polygon points="271.04,158.31 276.84,168.01 265.24,168.01" fill="#1c6fe3"/>
<polygon points="279.78,166.91 285.58,176.61 273.98,176.61" fill="#1c6fe3"/>
<polygon points="288.52,175.52 294.32,185.22 282.72,185.22" fill="#1c6fe3"/>
<polygon points="297.26,184.12 303.06,193.82 291.46,193.82" fill="#1c6fe3"/>
<polygon points="306.00,192.73 311.80,202.43 300.20,202.43" fill="#1c6fe3"/>
<polygon points="314.74,201.33 320.54,211.03 308.94,211.03" fill="#1c6fe3"/>
<polygon points="323.48,209.94 329.28,219.64 317.68,219.64" fill="#1c6fe3"/>
<polygon points="332.22,218.54 338.02,228.24 326.42,228.24" fill="#1c6fe3"/>
<polygon points="340.96,227.14 346.76,236.84 335.16,236.84" fill="#1c6fe3"/>
<polygon points="349.70,235.75 355.50,245.45 343.90,245.45" fill="#1c6fe3"/>
<polygon points="358.44,244.35 364.24,254.05 352.64,254.05" fill="#1c6fe3"/>
<polygon points="367.19,253.11 372.99,262.81 361.39,262.81" fill="#1c6fe3"/>
<polygon points="375.93,261.86 381.73,271.56 370.13,271.56" fill="#1c6fe3"/>
<polygon points="384.67,270.62 390.47,280.32 378.87,280.32" fill="#1c6fe3"/>
<polygon points="393.41,279.38 399.21,289.08 387.61,289.08" fill="#1c6fe3"/>
<polygon points="402.15,287.96 407.95,297.66 396.35,297.66" fill="#1c6fe3"/>
<polygon points="410.89,296.54 416.69,306.24 405.09,306.24" fill="#1c6fe3"/>
<polygon points="419.63,305.02 425.43,314.72 413.83,314.72" fill="#1c6fe3"/>
<polygon points="428.37,313.71 434.17,323.41 422.57,323.41" fill="#1c6fe3"/>
<polygon points="437.11,322.19 442.91,331.89 431.31,331.89" fill="#1c6fe3"/>
<polygon points="445.85,331.08 451.65,340.78 440.05,340.78" fill="#1c6fe3"/>
<polygon points="454.59,338.74 460.39,348.44 448.79,348.44" fill="#1c6fe3"/>
<polygon points="463.33,346.18 469.13,355.88 457.53,355.88" fill="#1c6fe3"/>
<polygon points="472.07,354.25 477.87,363.95 466.27,363.95" fill="#1c6fe3"/>
<polygon points="480.81,360.70 486.61,370.40 475.01,370.40" fill="#1c6fe3"/>
<polygon points="489.56,365.79 495.36,375.49 483.76,375.49" fill="#1c6fe3"/>
<polygon points="498.30,369.75 504.10,379.45 492.50,379.45" fill="#1c6fe3"/>
<polygon points="507.04,372.49 512.84,382.19 501.24,382.19" fill="#1c6fe3"/>
<polygon points="515.78,374.46 521.58,384.16 509.98,384.16" fill="#1c6fe3"/>
<polygon points="524.52,375.53 530.32,385.23 518.72,385.23" fill="#1c6fe3"/>
</g>
<rect x="364.3" y="25.6" width="150.6" height="135.9" fill="#fff"/>
<rect x="383.45" y="35.35" width="7.5" height="7.5" fill="#fff" stroke="#4b4b4b" stroke-width="1.5"/>
<circle cx="387.20" cy="61.10" r="4.30" fill="#fff" stroke="#ef3d3d" stroke-width="1.5"/>
<polygon points="387.20,77.81 392.10,86.01 382.30,86.01" fill="#fff" stroke="#1c6fe3" stroke-width="1.5" stroke-linejoin="miter"/>
<rect x="382.95" y="100.85" width="8.5" height="8.5" fill="#4b4b4b"/>
<circle cx="387.20" cy="127.10" r="4.70" fill="#ef3d3d"/>
<polygon points="387.20,142.84 393.00,152.54 381.40,152.54" fill="#1c6fe3"/>
<g font-family="'Liberation Sans', Arial, sans-serif" font-size="17.7" word-spacing="1.3" fill="#000" stroke="#000" stroke-width="0.25">
<text x="412.4" y="45.20">79 A Cal.</text>
<text x="412.4" y="67.20">99 A Cal.</text>
<text x="413.3" y="89.20">119 A Cal.</text>
<text x="412.4" y="111.20">79 A Meas.</text>
<text x="412.4" y="133.20">99 A Meas.</text>
<text x="413.3" y="155.20">119 A Meas.</text>
</g>
<g font-family="'Liberation Sans', Arial, sans-serif" font-size="16" fill="#000" stroke="#000" stroke-width="0.2">
<text x="87.48" y="411.2" text-anchor="middle">−25</text>
<text x="131.19" y="411.2" text-anchor="middle">−20</text>
<text x="174.89" y="411.2" text-anchor="middle">−15</text>
<text x="218.59" y="411.2" text-anchor="middle">−10</text>
<text x="262.30" y="411.2" text-anchor="middle">−5</text>
<text x="306.00" y="411.2" text-anchor="middle">0</text>
<text x="349.70" y="411.2" text-anchor="middle">5</text>
<text x="393.41" y="411.2" text-anchor="middle">10</text>
<text x="437.11" y="411.2" text-anchor="middle">15</text>
<text x="480.81" y="411.2" text-anchor="middle">20</text>
<text x="524.52" y="411.2" text-anchor="middle">25</text>
<text x="61.9" y="357.58" text-anchor="end">−1.0</text>
<text x="61.9" y="281.54" text-anchor="end">−0.5</text>
<text x="61.9" y="205.50" text-anchor="end">0.0</text>
<text x="61.9" y="129.46" text-anchor="end">0.5</text>
<text x="61.9" y="53.42" text-anchor="end">1.0</text>
</g>
<g font-family="'Liberation Sans', Arial, sans-serif" font-size="19.5" fill="#000" stroke="#000" stroke-width="0.2">
<text x="305.8" y="442.8" text-anchor="middle">x (mm)</text>
<text transform="translate(21.5,200.3) rotate(-90)" text-anchor="middle">Magnetic field (T)</text>
</g>
</svg>
</body></html>
